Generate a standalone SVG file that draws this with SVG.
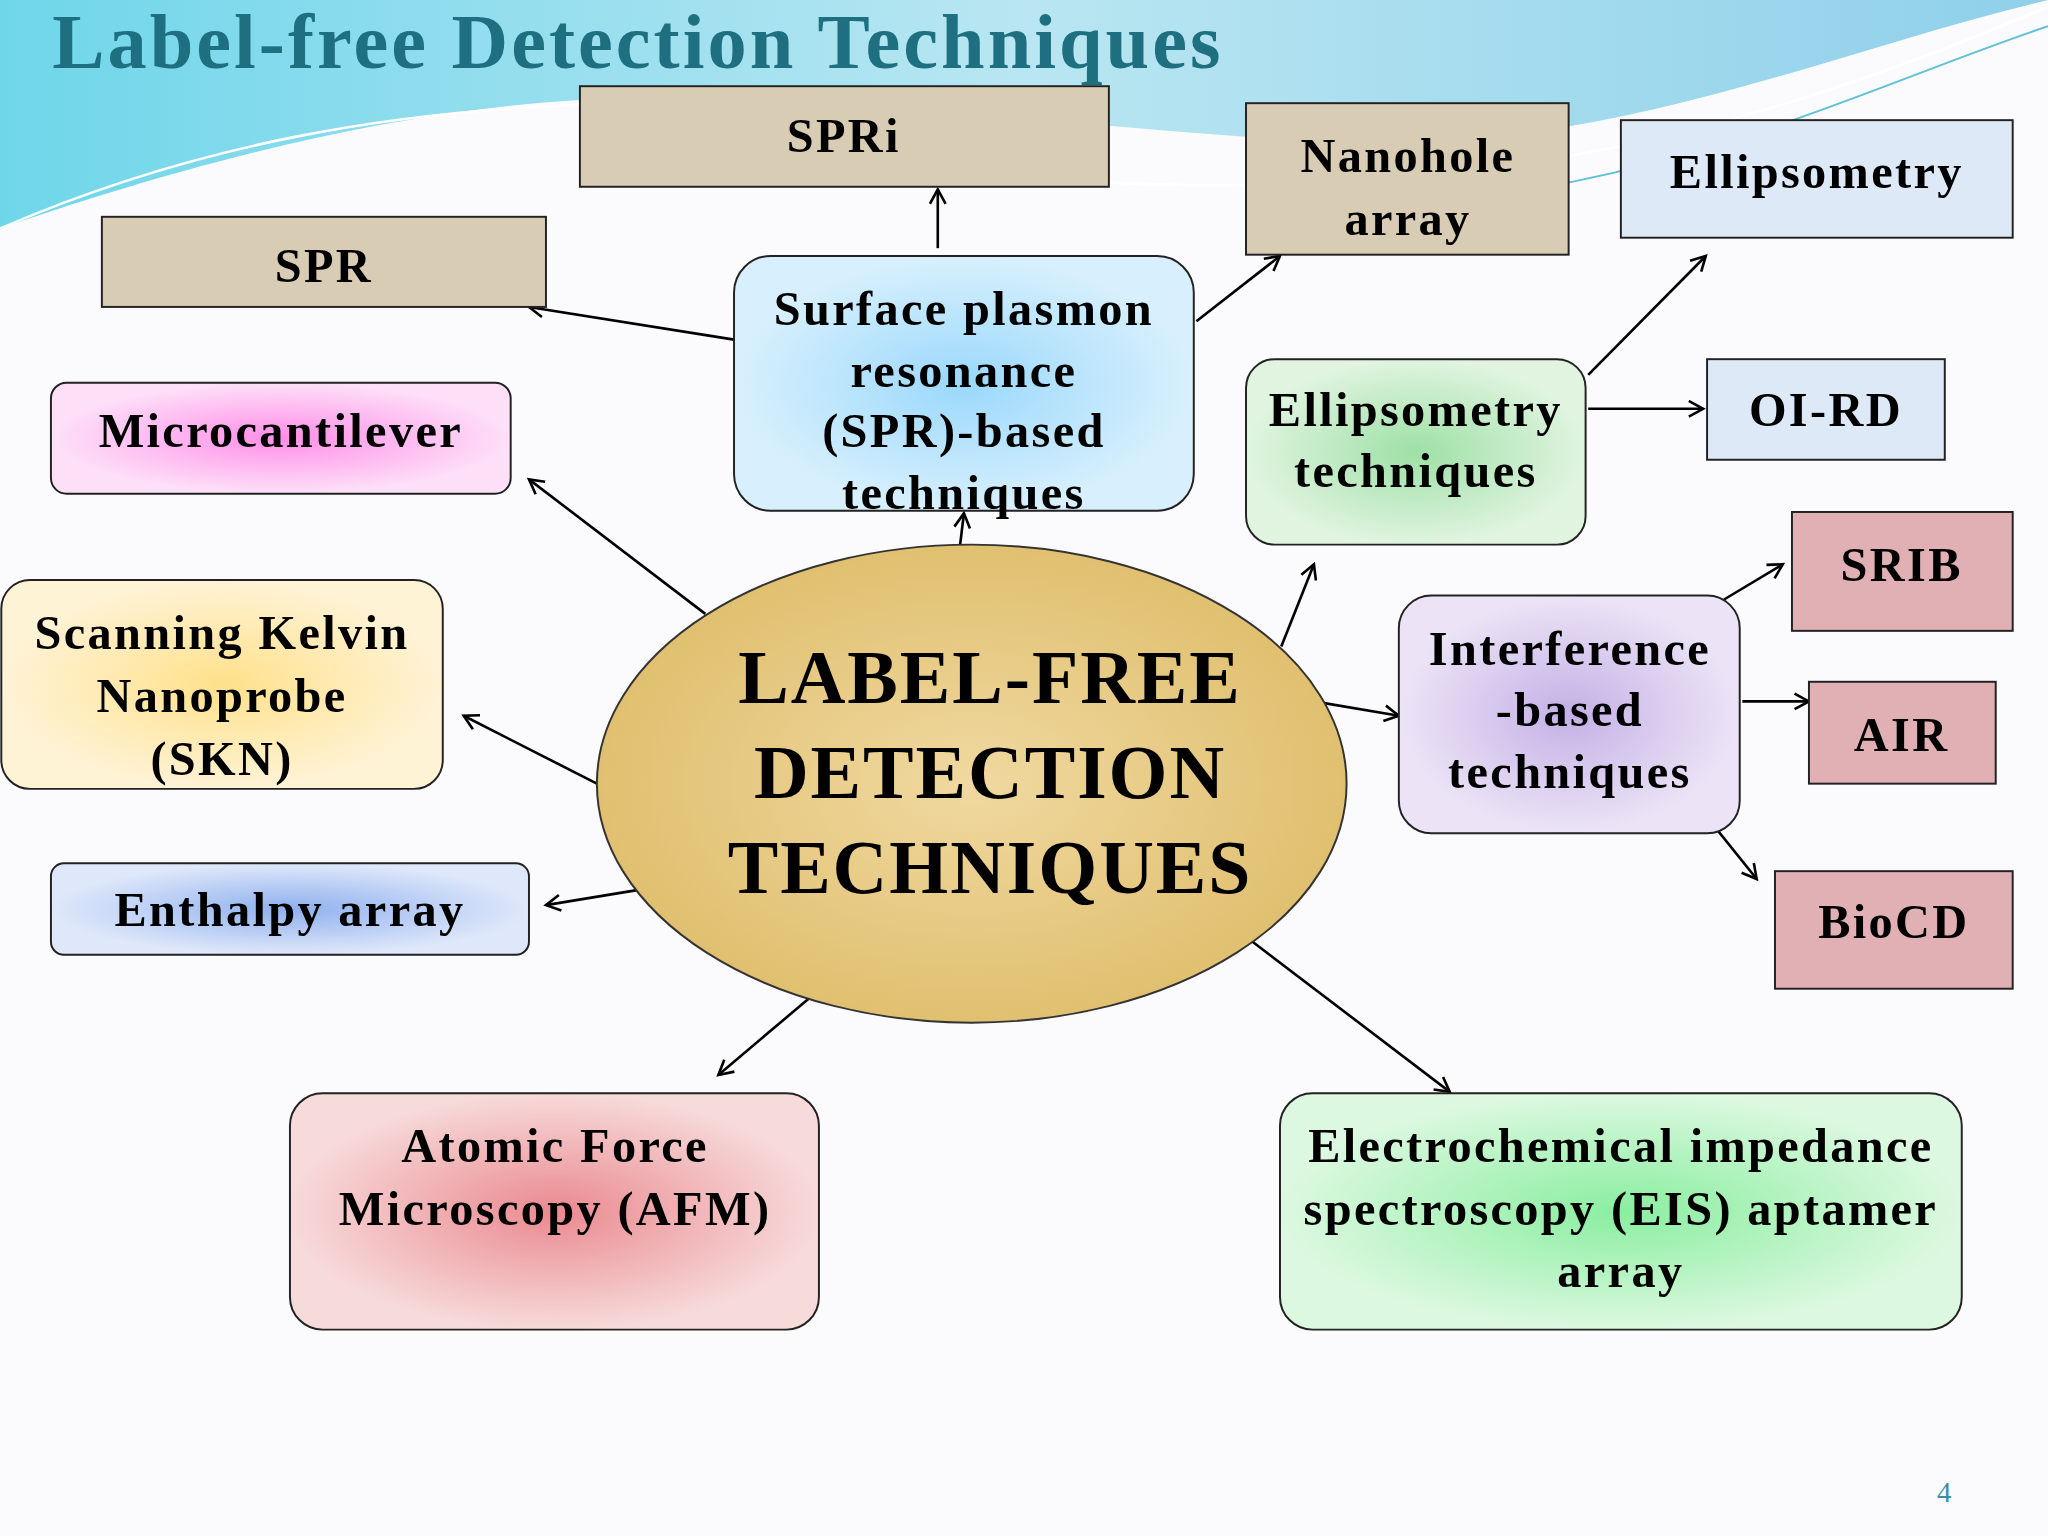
<svg xmlns="http://www.w3.org/2000/svg" width="2048" height="1536" viewBox="0 0 2048 1536">
<defs>
<style>
.t{font-family:"Liberation Serif",serif;font-weight:bold;fill:#000;text-anchor:middle}
.n{font-size:37px;letter-spacing:1.8px}
.c{stroke:#000;stroke-width:2;fill:none;marker-end:url(#ah)}
.bx{stroke:#222;stroke-width:1.5}
.rr{stroke:#222;stroke-width:1.5}
</style>
<marker id="ah" markerWidth="14" markerHeight="14" refX="12" refY="7" orient="auto" markerUnits="userSpaceOnUse"><path d="M1,1 L12,7 L1,13" fill="none" stroke="#000" stroke-width="2"/></marker>
<linearGradient id="sky" x1="0" y1="0" x2="1" y2="0"><stop offset="0" stop-color="#6fd6ea"/><stop offset="0.5" stop-color="#b9e6f2"/><stop offset="1" stop-color="#8fd0ea"/></linearGradient>
<radialGradient id="pink"><stop offset="0" stop-color="#ff8ee8"/><stop offset="1" stop-color="#fde0f8"/></radialGradient>
<radialGradient id="yel"><stop offset="0" stop-color="#ffe08a"/><stop offset="1" stop-color="#fff3d6"/></radialGradient>
<radialGradient id="blu"><stop offset="0" stop-color="#8fb0ee"/><stop offset="1" stop-color="#dfe8fa"/></radialGradient>
<radialGradient id="red"><stop offset="0" stop-color="#ea8a90"/><stop offset="1" stop-color="#f7dada"/></radialGradient>
<radialGradient id="grn"><stop offset="0" stop-color="#8aeea0"/><stop offset="1" stop-color="#dcf8e0"/></radialGradient>
<radialGradient id="sky2"><stop offset="0" stop-color="#9ad8fb"/><stop offset="1" stop-color="#d8f0fd"/></radialGradient>
<radialGradient id="grn2"><stop offset="0" stop-color="#9ee0a6"/><stop offset="1" stop-color="#e0f4e0"/></radialGradient>
<radialGradient id="pur"><stop offset="0" stop-color="#c4b0e6"/><stop offset="1" stop-color="#ece4f6"/></radialGradient>
<radialGradient id="tan"><stop offset="0" stop-color="#f0d8a0"/><stop offset="1" stop-color="#e0c070"/></radialGradient>
</defs>
<rect width="2048" height="1536" fill="#fbfbfd"/>
<g transform="scale(1.3061)">
<g id="bg">
<path d="M0,0 H1568 V0 C1400,40 1250,110 1050,110 C800,100 600,60 400,80 C250,95 100,140 0,175 Z" fill="url(#sky)"/>
<path d="M0,175 C150,110 300,85 450,80" stroke="#fff" stroke-width="2" fill="none"/>
<path d="M850,140 C1100,150 1300,120 1568,5" stroke="#fff" stroke-width="2" fill="none"/>
<path d="M1200,140 C1350,110 1450,60 1568,20" stroke="#5fc0d8" stroke-width="1.5" fill="none"/>
</g>
<text x="40" y="52" style="font-family:'Liberation Serif',serif;font-weight:bold;font-size:60px;letter-spacing:2.3px;fill:#1e6f80">Label-free Detection Techniques</text>
<text x="1483" y="1150" style="font-family:'Liberation Serif',serif;font-size:22px;fill:#3a8fa8">4</text>

<g id="connectors">
<path class="c" d="M718,190 L718,145"/>
<path class="c" d="M562,260 L405,235"/>
<path class="c" d="M916,246 L980,196"/>
<path class="c" d="M735,418 L738,393"/>
<path class="c" d="M540,470 L405,367"/>
<path class="c" d="M457,600 L355,548"/>
<path class="c" d="M497,680 L418,693"/>
<path class="c" d="M627,758 L550,823"/>
<path class="c" d="M955,718 L1110,836"/>
<path class="c" d="M981,495 L1006,432"/>
<path class="c" d="M1006,537 L1071,548"/>
<path class="c" d="M1216,287 L1306,196"/>
<path class="c" d="M1216,313 L1304,313"/>
<path class="c" d="M1320,459 L1365,432"/>
<path class="c" d="M1334,537 L1385,537"/>
<path class="c" d="M1308,627 L1345,673"/>
</g>

<g id="center"><ellipse cx="744" cy="600" rx="287" ry="183" fill="url(#tan)" stroke="#333" stroke-width="1.5"/>
<g style="letter-spacing:1.5px"><text class="t" x="758" y="538" font-size="58">LABEL-FREE</text>
<text class="t" x="758" y="611" font-size="58">DETECTION</text>
<text class="t" x="758" y="684" font-size="58">TECHNIQUES</text></g></g>

<g id="spri"><rect class="bx" x="444" y="66" width="405" height="77" fill="#d8cdb4"/><text class="t n" x="646" y="116">SPRi</text></g>
<g id="nanohole"><rect class="bx" x="954" y="79" width="247" height="116" fill="#d8cdb4"/><text class="t n" x="1078" y="132">Nanohole</text><text class="t n" x="1078" y="180">array</text></g>
<g id="ellipsometry"><rect class="bx" x="1241" y="92" width="300" height="90" fill="#dde9f6"/><text class="t n" x="1391" y="144">Ellipsometry</text></g>
<g id="spr"><rect class="bx" x="78" y="166" width="340" height="69" fill="#d8cdb4"/><text class="t n" x="248" y="216">SPR</text></g>
<g id="oird"><rect class="bx" x="1307" y="275" width="182" height="77" fill="#dde9f6"/><text class="t n" x="1398" y="326">OI-RD</text></g>
<g id="srib"><rect class="bx" x="1372" y="392" width="169" height="91" fill="#e0b0b4"/><text class="t n" x="1456" y="445">SRIB</text></g>
<g id="air"><rect class="bx" x="1385" y="522" width="143" height="78" fill="#e0b0b4"/><text class="t n" x="1456" y="575">AIR</text></g>
<g id="biocd"><rect class="bx" x="1359" y="667" width="182" height="90" fill="#e0b0b4"/><text class="t n" x="1450" y="718">BioCD</text></g>

<g id="micro"><rect class="rr" x="39" y="293" width="352" height="85" rx="12" fill="url(#pink)"/><text class="t n" x="215" y="342">Microcantilever</text></g>
<g id="skn"><rect class="rr" x="1" y="444" width="338" height="160" rx="22" fill="url(#yel)"/><text class="t n" x="170" y="497">Scanning Kelvin</text><text class="t n" x="170" y="545">Nanoprobe</text><text class="t n" x="170" y="593">(SKN)</text></g>
<g id="enthalpy"><rect class="rr" x="39" y="661" width="366" height="70" rx="10" fill="url(#blu)"/><text class="t n" x="222" y="709">Enthalpy array</text></g>
<g id="afm"><rect class="rr" x="222" y="837" width="405" height="181" rx="25" fill="url(#red)"/><text class="t n" x="425" y="890">Atomic Force</text><text class="t n" x="425" y="938">Microscopy (AFM)</text></g>
<g id="eis"><rect class="rr" x="980" y="837" width="522" height="181" rx="25" fill="url(#grn)"/><text class="t n" x="1241" y="890">Electrochemical impedance</text><text class="t n" x="1241" y="938">spectroscopy (EIS) aptamer</text><text class="t n" x="1241" y="985">array</text></g>
<g id="sprbased"><rect class="rr" x="562" y="196" width="352" height="195" rx="28" fill="url(#sky2)"/><text class="t n" x="738" y="249">Surface plasmon</text><text class="t n" x="738" y="296">resonance</text><text class="t n" x="738" y="342">(SPR)-based</text><text class="t n" x="738" y="390">techniques</text></g>
<g id="ellipt"><rect class="rr" x="954" y="275" width="260" height="142" rx="22" fill="url(#grn2)"/><text class="t n" x="1084" y="326">Ellipsometry</text><text class="t n" x="1084" y="373">techniques</text></g>
<g id="interf"><rect class="rr" x="1071" y="456" width="261" height="182" rx="25" fill="url(#pur)"/><text class="t n" x="1202" y="509">Interference</text><text class="t n" x="1202" y="556">-based</text><text class="t n" x="1202" y="603">techniques</text></g>
</g>
</svg>
